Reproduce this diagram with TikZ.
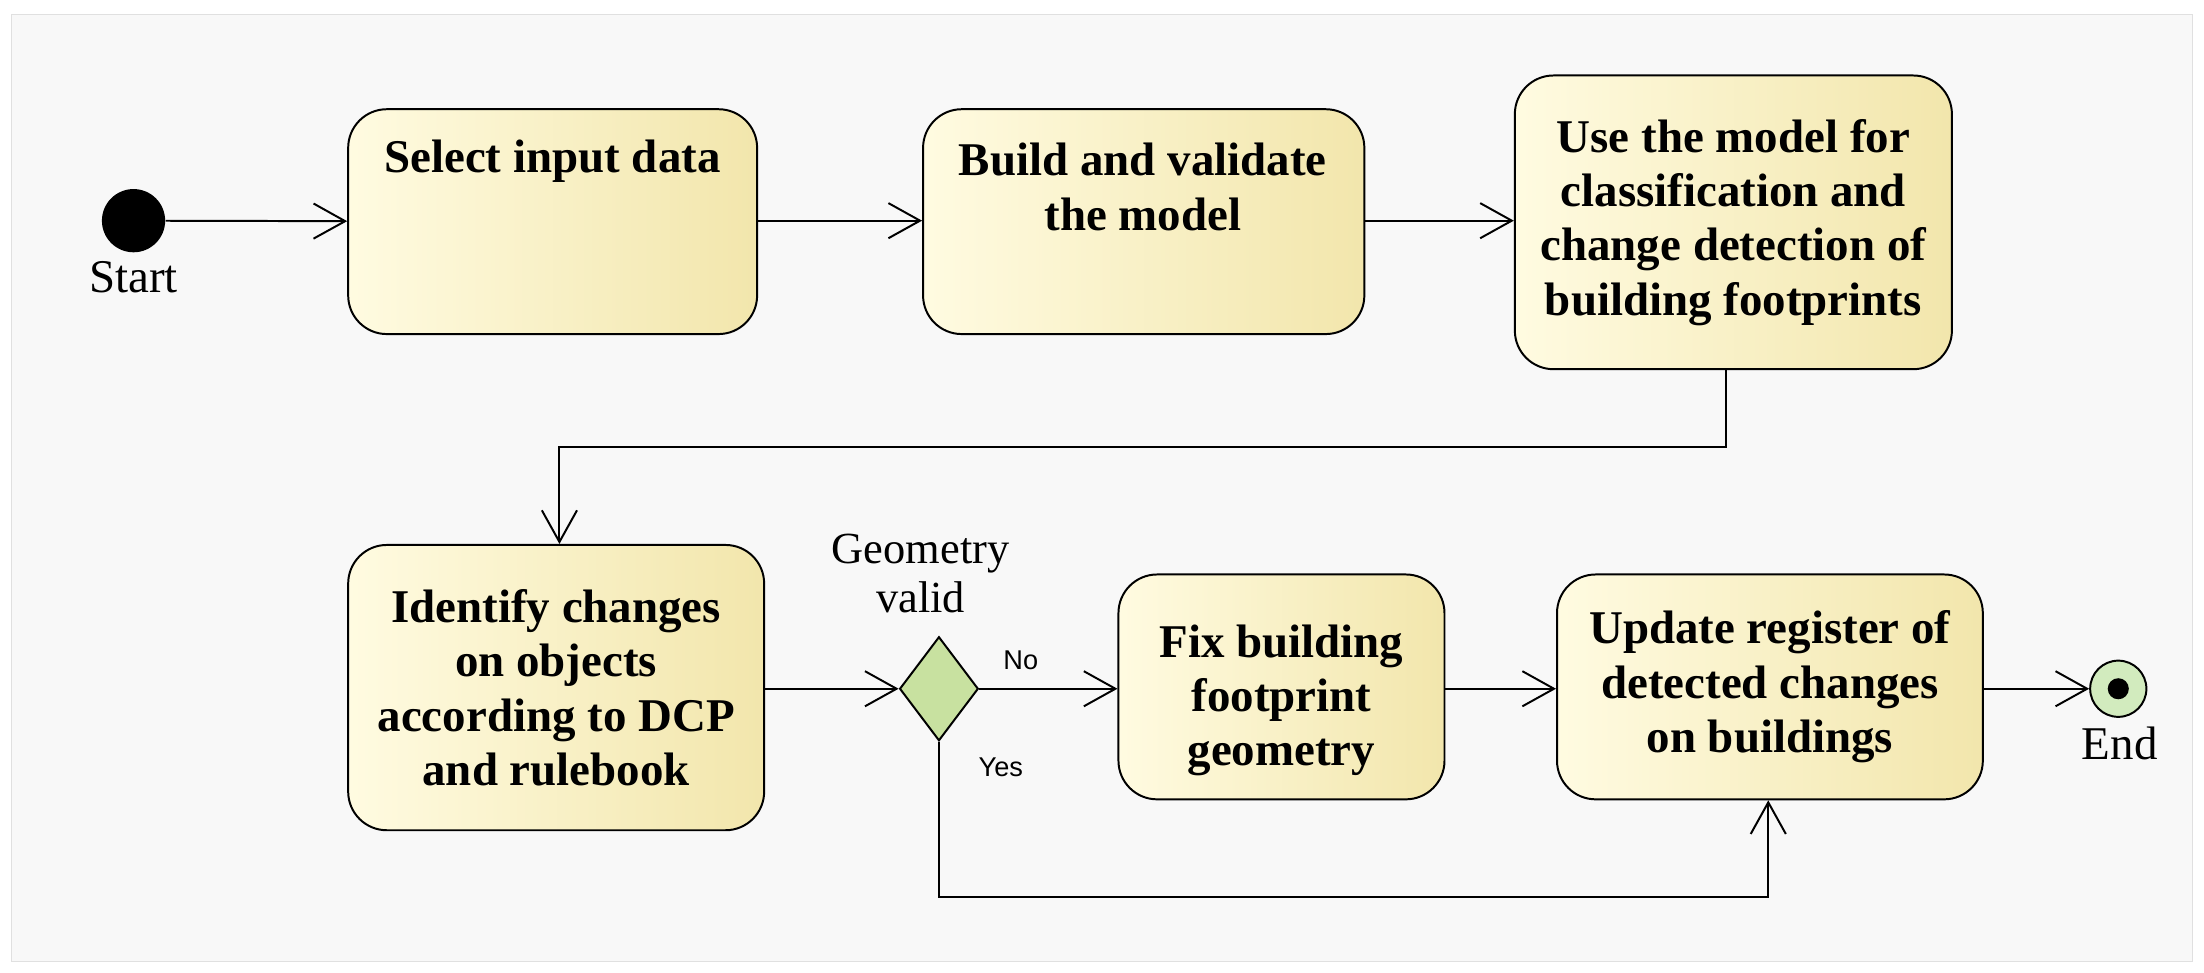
\documentclass[tikz,border=0pt]{standalone}
\usepackage{fontspec}
\setmainfont{Liberation Serif}
\newfontfamily\lblsans{Liberation Sans}
\usetikzlibrary{arrows.meta,shapes.geometric}
\definecolor{boxl}{RGB}{255,251,225}
\definecolor{boxr}{RGB}{242,230,172}
\definecolor{dia}{RGB}{200,225,160}
\definecolor{endc}{RGB}{210,235,190}
\definecolor{bgc}{RGB}{248,248,248}
\begin{document}
\begin{tikzpicture}[x=0.02cm,y=-0.02cm,
    act/.style={draw, line width=0.8pt, rounded corners=0.55cm, left color=boxl, right color=boxr, anchor=north west},
    txt/.style={font=\fontsize{19}{22}\selectfont\bfseries, align=center},
    arr/.style={-{Straight Barb[length=4.5mm,width=5mm]}, line width=0.8pt},
    yn/.style={font=\lblsans\fontsize{11}{13}\selectfont}
]
\useasboundingbox (0,0) rectangle (1568,692);
\draw[draw=black!12, fill=bgc] (8,10) rectangle (1560,684);

% start / end
\node[circle, fill=black, minimum size=0.9cm, inner sep=0] (start) at (95,157) {};
\node[font=\fontsize{19}{21}\selectfont] (startl) at (95,197) {Start};
\node[circle, draw, line width=0.8pt, fill=endc, minimum size=0.8cm, inner sep=0] (end) at (1507,490) {};
\fill (end) circle (0.15cm);
\node[font=\fontsize{19}{21}\selectfont] (endl) at (1508,529) {End};

% activities
\node[act, minimum width=5.82cm, minimum height=3.2cm] (sel) at (247,77) {};
\node[txt] (selt) at (393,115) {Select input data};
\node[act, minimum width=6.28cm, minimum height=3.2cm] (bld) at (656,77) {};
\node[txt] (bldt) at (813,133) {Build and validate\\the model};
\node[act, minimum width=6.22cm, minimum height=4.18cm, txt] (use) at (1077,53) {Use the model for\\classification and\\change detection of\\building footprints};
\node[act, minimum width=5.92cm, minimum height=4.06cm, txt] (idf) at (247,387) {Identify changes\\on objects\\according to DCP\\and rulebook};
\node[diamond, draw, line width=0.8pt, fill=dia, minimum width=1.12cm, minimum height=1.48cm, inner sep=0] (geo) at (668,490) {};
\node[font=\fontsize{18}{20}\selectfont, align=center] (geol) at (655,408) {Geometry\\valid};
\node[act, minimum width=4.64cm, minimum height=3.2cm, txt] (fix) at (795,408) {\\[2pt]Fix building\\footprint\\geometry};
\node[act, minimum width=6.06cm, minimum height=3.2cm, txt] (upd) at (1107,408) {Update register of\\detected changes\\on buildings};

% flows
\draw[arr] (start) -- (sel);
\draw[arr] (sel.east |- 0,157) -- (bld.west |- 0,157);
\draw[arr] (bld.east |- 0,157) -- (use.west |- 0,157);
\draw[arr] (use.south -| 1228,0) |- (398,318) -- (idf.north -| 398,0);
\draw[arr] (idf.east |- geo) -- (geo.west);
\draw[arr] (geo.east) -- node[yn, above, pos=0.3, yshift=4pt] {No} (fix.west |- geo);
\draw[arr] (fix.east |- geo) -- (upd.west |- geo);
\draw[arr] (upd.east |- end) -- (end.west);
\draw[arr] (geo.south) |- (1258,638) -- (upd.south -| 1258,0);
\node[yn] (yes) at (712,546) {Yes};
\end{tikzpicture}
\end{document}
